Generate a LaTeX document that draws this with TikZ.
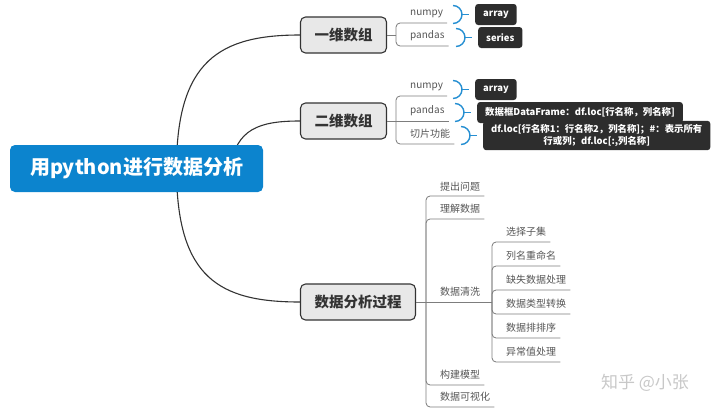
\documentclass[tikz,border=0pt]{standalone}
\usepackage{fontspec}
\setmainfont{Noto Sans CJK SC}
\usetikzlibrary{calc,backgrounds}
\definecolor{rootblue}{RGB}{12,132,206}
\definecolor{topicgray}{RGB}{232,232,232}
\definecolor{darkline}{RGB}{51,51,51}
\definecolor{boxdark}{RGB}{45,45,45}
\definecolor{branchgray}{RGB}{125,125,125}
\definecolor{leafgray}{RGB}{85,85,85}
\definecolor{braceblue}{RGB}{38,143,210}
\definecolor{markgray}{RGB}{200,200,200}
\tikzset{
  root/.style={fill=rootblue, rounded corners=5, text=white, font=\fontsize{20}{24}\selectfont\bfseries,
    minimum width=253, minimum height=47},
  topic/.style={draw=darkline, line width=1.1, fill=topicgray, rounded corners=5, text=darkline,
    font=\fontsize{14.5}{17}\selectfont\bfseries, inner xsep=14, minimum height=36},
  leaf/.style={anchor=south west, text=leafgray, font=\fontsize{10}{12}\selectfont, inner xsep=4, inner ysep=5},
  leafbox/.style={anchor=west, fill=boxdark, rounded corners=3, text=white,
    font=\fontsize{9.4}{12.5}\selectfont\bfseries, inner xsep=8, minimum height=21},
  trunk/.style={draw=darkline, line width=1.1},
  branch/.style={draw=branchgray, line width=0.8, rounded corners=4},
  bracebr/.style={draw=braceblue, line width=1.4},
}
% blue brace in front of a dark box
\newcommand\bluebrace[1]{%
  \draw[bracebr] ($(#1.west)+(-22,-9)$) to[out=0,in=90] ($(#1.west)+(-13,0)$) to[out=-90,in=0] ($(#1.west)+(-22,9)$);
  \draw[bracebr] ($(#1.west)+(-13,0)$) -- ($(#1.west)+(-6,0)$);}
\begin{document}
\begin{tikzpicture}[x=1pt,y=-1pt]
  \useasboundingbox (0,0) rectangle (720,415);
  % main topics
  \node[root] (root) at (136.5,168.5) {用python进行数据分析};
  \node[topic] (yiwei) at (343.5,35) {一维数组};
  \node[topic] (erwei) at (343.5,121) {二维数组};
  \node[topic] (guocheng) at (358,302) {数据分析过程};
  \begin{scope}[on background layer]
    \draw[trunk] ($(root.center)+(40,0)$) .. controls +(0,-108) and +(-80,0) .. (yiwei.west);
    \draw[trunk] ($(root.center)+(94,0)$) .. controls +(5,-40) and +(-40,0) .. (erwei.west);
    \draw[trunk] ($(root.center)+(40,0)$) .. controls +(0,110) and +(-80,0) .. (guocheng.west);
  \end{scope}

  % 一维数组
  \coordinate (yiFork) at ($(yiwei.east)+(9,0)$);
  \draw[branch] (yiwei.east) -- (yiFork);
  \foreach \n/\y/\t in {yiNumpy/23/numpy, yiPandas/46/pandas}{
    \node[leaf] (\n) at (406,\y) {\t};
    \draw[branch] (yiFork) |- (\n.south east);
  }
  \node[leafbox] (yiArray) at (475,14.5) {array};
  \node[leafbox] (yiSeries) at (478,37.5) {series};
  \bluebrace{yiArray}
  \bluebrace{yiSeries}

  % 二维数组
  \coordinate (erFork) at ($(erwei.east)+(9,0)$);
  \draw[branch] (erwei.east) -- (erFork);
  \node[leaf] (erPandas) at (406,121) {pandas};
  \draw[branch] (erFork) -- (erPandas.south east);
  \foreach \n/\y/\t in {erNumpy/96/numpy, erQiepian/144/切片功能}{
    \node[leaf] (\n) at (406,\y) {\t};
    \draw[branch] (erFork) |- (\n.south east);
  }
  \node[leafbox] (erArray) at (475,89.5) {array};
  \node[leafbox] (erFrame) at (477,112.5) {数据框DataFrame：df.loc[行名称，列名称]};
  \node[leafbox, align=center] (erSlice) at (483,135.5) {df.loc[行名称1：行名称2，列名称]；\#：表示所有\\行或列；df.loc[:,列名称]};
  \bluebrace{erArray}
  \bluebrace{erFrame}
  \bluebrace{erSlice}

  % 数据分析过程
  \coordinate (gcFork) at ($(guocheng.east)+(10,0)$);
  \coordinate (qxFork) at ($(gcFork)+(66,0)$);
  \draw[branch] (guocheng.east) -- (gcFork);
  \node[leaf] (qingxi) at (436,302) {数据清洗};
  \draw[branch] (gcFork) -- (qxFork);
  \foreach \n/\y/\t in {tichu/196/提出问题, lijie/219/理解数据, goujian/385/构建模型, keshi/407/数据可视化}{
    \node[leaf] (\n) at (436,\y) {\t};
    \draw[branch] (gcFork) |- (\n.south east);
  }
  \foreach \n/\y/\t in {ziji/242/选择子集, chongming/266/列名重命名, queshi/290/缺失数据处理,
                        leixing/314/数据类型转换, paixu/338/数据排排序, yichang/362/异常值处理}{
    \node[leaf] (\n) at (502,\y) {\t};
    \draw[branch] (qxFork) |- (\n.south east);
  }

  % watermark
  \node[font=\fontsize{17}{20}\selectfont, text=markgray] (mark) at (645,383) {知乎 @小张};
\end{tikzpicture}
\end{document}
